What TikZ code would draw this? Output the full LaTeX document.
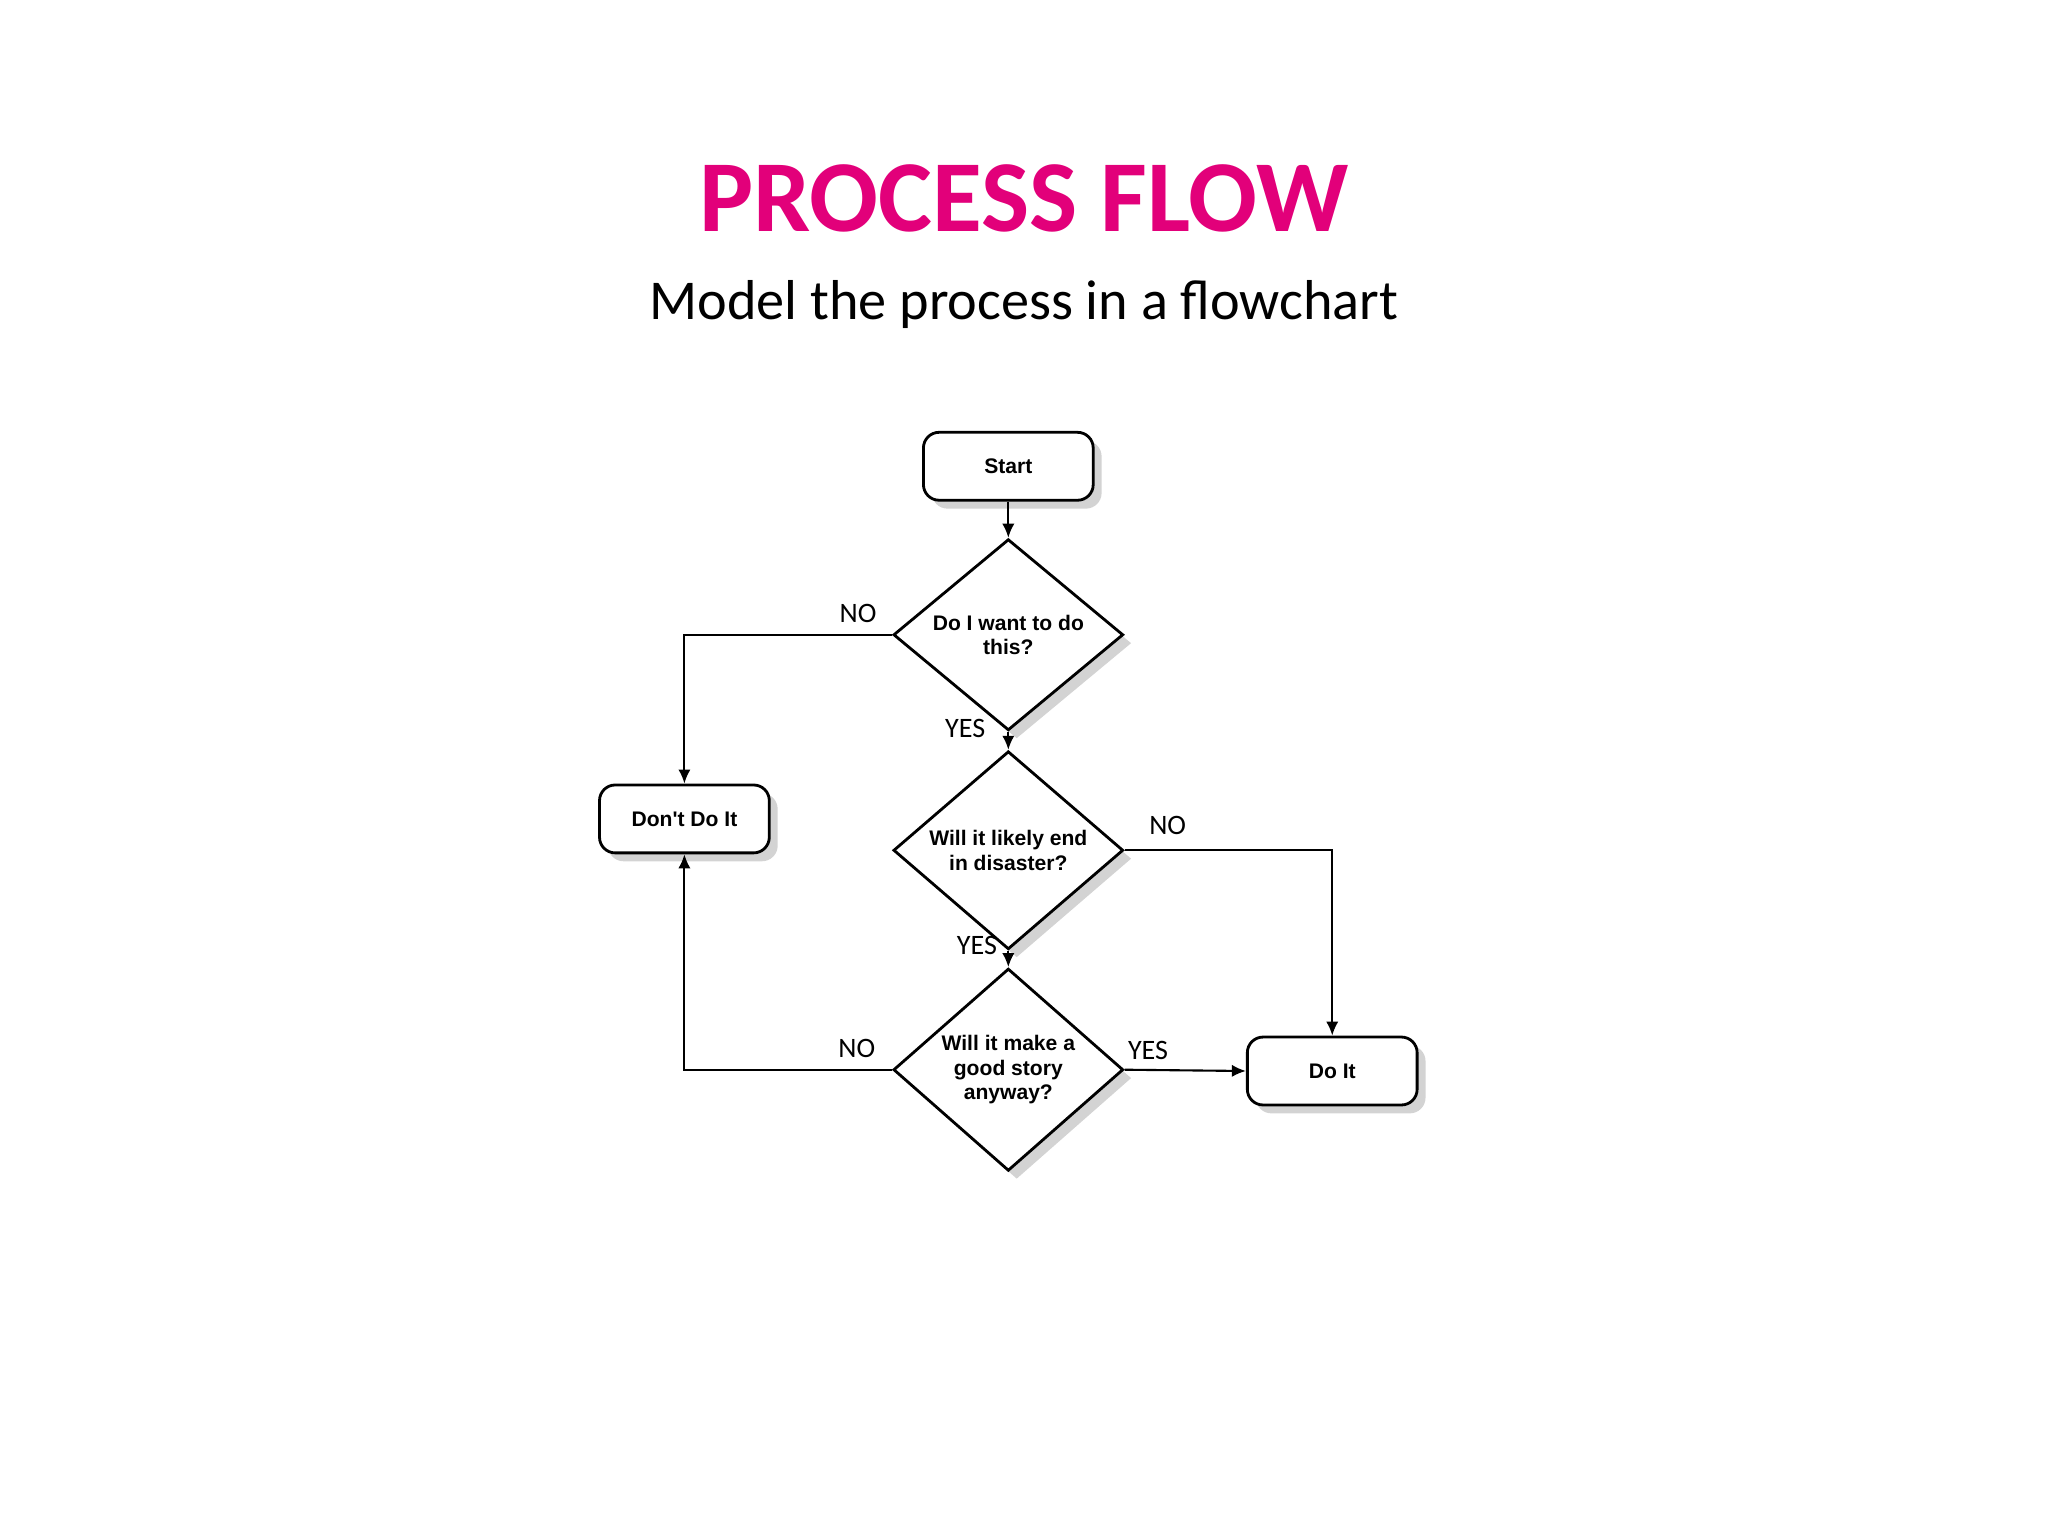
\documentclass[tikz,border=0pt]{standalone}
\usepackage{fontspec}
\setmainfont{Carlito}
\newfontfamily\nodefont{Liberation Sans}
\usetikzlibrary{shapes.geometric,shadows,arrows.meta}
\definecolor{titlemag}{RGB}{226,0,122}
\def\u{0.013061cm}
\tikzset{
  box/.style={draw,thick,rounded corners=12*\u,minimum width=130*\u,minimum height=52*\u,
    fill=white,drop shadow={opacity=0.35},font=\nodefont\bfseries\fontsize{6}{7}\selectfont},
  dec/.style={draw,thick,diamond,minimum width=176*\u,minimum height=102*\u,inner sep=0pt,
    fill=white,drop shadow={opacity=0.35},align=center,font=\nodefont\bfseries\fontsize{6}{7}\selectfont},
  lab/.style={font=\fontsize{8}{9}\selectfont},
  flow/.style={-{Latex[length=4pt,width=3.5pt]},semithick}
}
\begin{document}
\begin{tikzpicture}[x=0.013061cm,y=-0.013061cm]
\useasboundingbox (0,0) rectangle (1568,1176);
\node[font=\bfseries\fontsize{29}{32}\selectfont,text=titlemag] (title) at (784,152) {PROCESS FLOW};
\node[font=\fontsize{16}{19}\selectfont] (sub) at (784,233) {Model the process in a flowchart};

\node[box] (start) at (772,357) {Start};
\node[dec] (d1) at (772,486) {Do I want to do\\this?};
\node[dec] (d2) at (772,651) {Will it likely end\\in disaster?};
\node[dec] (d3) at (772,819) {Will it make a\\good story\\anyway?};
\node[box] (dont) at (524,627) {Don't Do It};
\node[box] (doit) at (1020,820) {Do It};

\draw[flow] (start) -- (d1);
\draw[flow] (d1.west) -| (dont.north);
\draw[flow] (d1.south) -- (d2.north);
\draw[flow] (d2.east) -| (doit.north);
\draw[flow] (d2.south) -- (d3.north);
\draw[flow] (d3.east) -- (doit.west);
\draw[flow] (d3.west) -| (dont.south);

\node[lab] (n1) at (657,470) {NO};
\node[lab] (y1) at (739,558) {YES};
\node[lab] (n2) at (894,632) {NO};
\node[lab] (y2) at (748,724) {YES};
\node[lab] (n3) at (656,803) {NO};
\node[lab] (y3) at (879,804) {YES};
\end{tikzpicture}
\end{document}
